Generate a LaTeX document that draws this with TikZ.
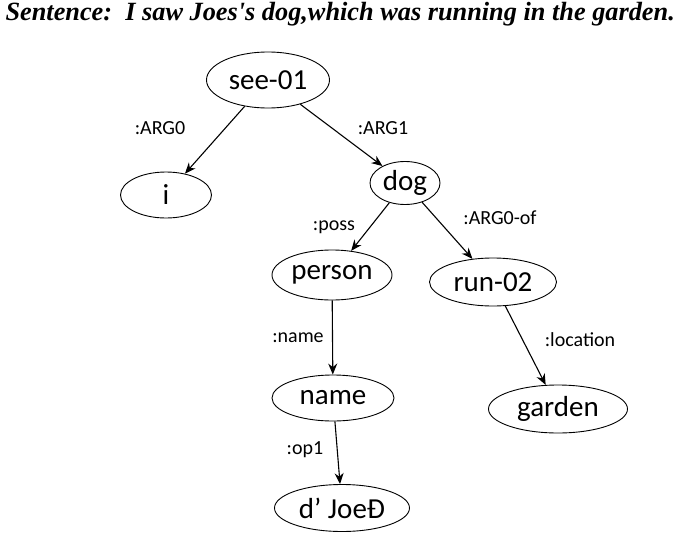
\documentclass[tikz,border=0pt]{standalone}
\usepackage{fontspec}
\setmainfont{Carlito}
\newfontfamily\titlefont{Liberation Serif}
\usetikzlibrary{shapes.geometric,arrows.meta}
\begin{document}
\begin{tikzpicture}[x=1pt,y=-1pt,
  nd/.style={draw,ellipse,line width=0.9pt,minimum width=#1,minimum height=46pt,inner sep=0pt,font=\fontsize{29}{34}\selectfont},
  nd/.default=120pt,
  lbl/.style={font=\fontsize{20}{24}\selectfont},
  ar/.style={-{Stealth[length=11pt,width=9pt]},line width=1.1pt}]
\useasboundingbox (0,0) rectangle (685,538);
\node[anchor=west,font=\titlefont\bfseries\itshape\fontsize{26.3}{30}\selectfont] (t) at (2,14) {Sentence:\ \ I saw Joes's dog,which was running in the garden.};
\node[nd=123pt,minimum height=56pt] (see) at (268,80) {see-01};
\node[nd=91pt] (i) at (166,195) {i};
\node[nd=70pt,minimum height=43pt] (dog) at (405,183) {dog};
\node[nd=120pt,minimum height=50pt] (person) at (332,275) {person};
\node[nd=127pt,minimum height=48pt] (run) at (493,282) {run-02};
\node[nd=122pt] (name) at (333,398) {name};
\node[nd=139pt,minimum height=48pt] (garden) at (558,409) {garden};
\node[nd=135pt,minimum height=47pt] (joe) at (342,508) {d’ JoeĐ};
\draw[ar] (see) -- (i);
\draw[ar] (see) -- (dog);
\draw[ar] (dog) -- (person);
\draw[ar] (dog) -- (run);
\draw[ar] (person) -- (name);
\draw[ar] (run) -- (garden);
\draw[ar] (name) -- (joe);
\node[lbl] (l1) at (160,128) {:ARG0};
\node[lbl] (l2) at (383,128) {:ARG1};
\node[lbl] (l3) at (334,227) {:poss};
\node[lbl] (l4) at (500,218) {:ARG0-of};
\node[lbl] (l5) at (298,338) {:name};
\node[lbl] (l6) at (580,340) {:location};
\node[lbl] (l7) at (305,450) {:op1};
\end{tikzpicture}
\end{document}
